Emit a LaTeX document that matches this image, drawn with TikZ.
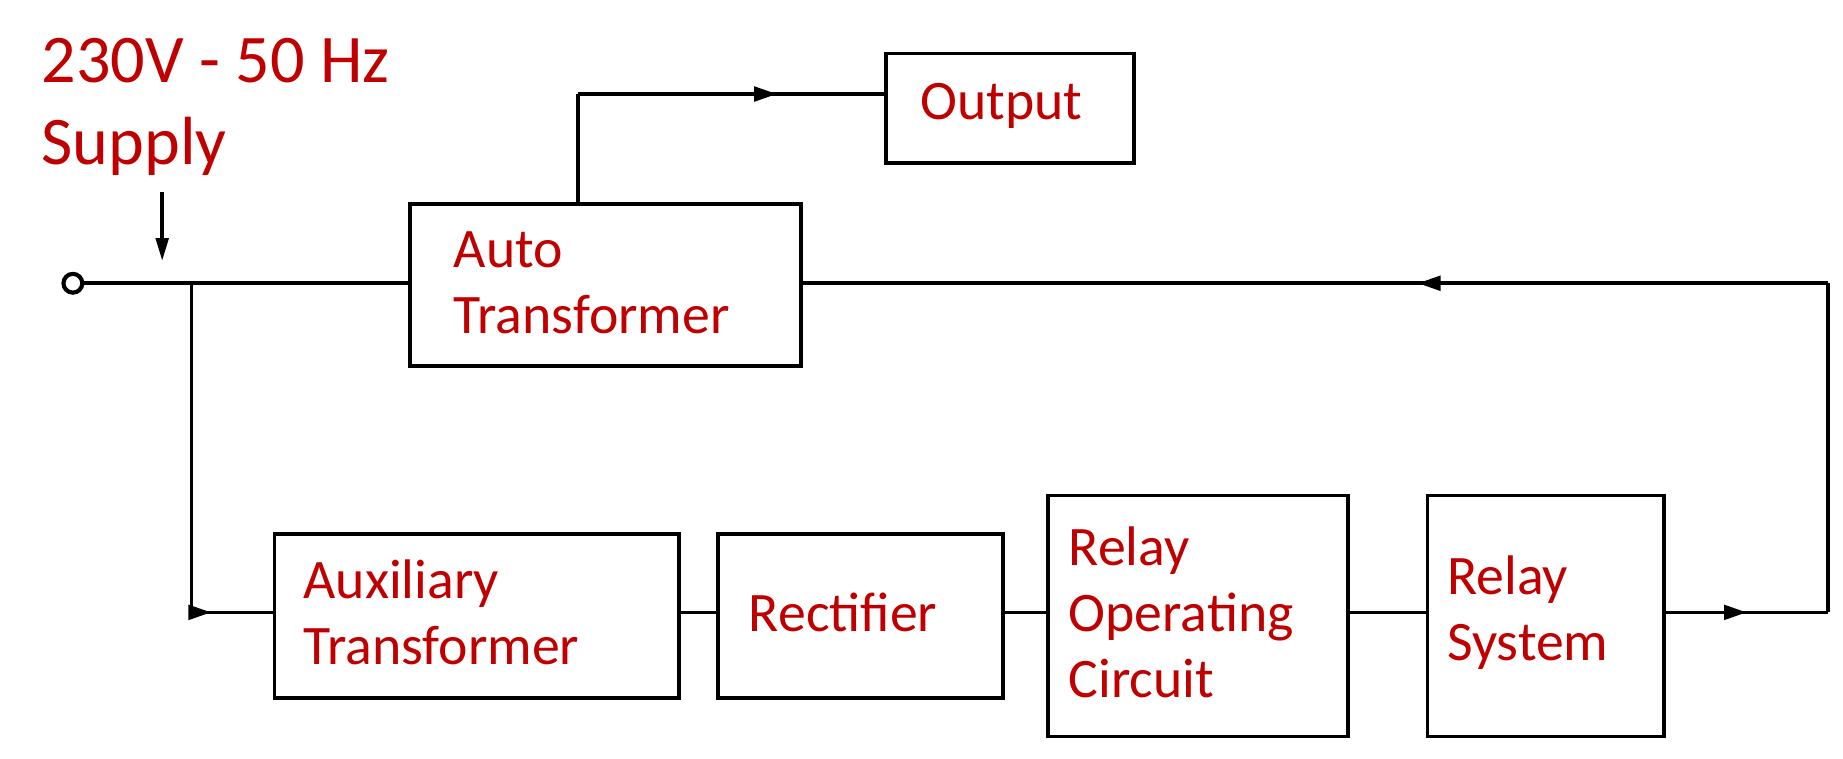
\documentclass[tikz,border=0pt]{standalone}
\usepackage{fontspec}
\setmainfont{Carlito}
\usetikzlibrary{arrows.meta,decorations.markings}
\definecolor{lbl}{HTML}{C00000}
\begin{document}
\begin{tikzpicture}[x=0.02cm,y=-0.02cm,
  blk/.style={draw,line width=1.8pt,anchor=north west,inner sep=0pt},
  lab/.style={text=lbl,font=\fontsize{27}{32}\selectfont,align=left,anchor=west},
  wire/.style={line width=1.8pt},
  midarrow/.style={postaction={decorate},decoration={markings,mark=at position #1 with {\arrow{Triangle[length=11pt,width=7pt]}}}}]
\useasboundingbox (0,0) rectangle (1568,645);
% boxes
\node[blk,minimum width=211*0.02cm,minimum height=93*0.02cm] (out) at (752,44) {};
\node[blk,minimum width=333*0.02cm,minimum height=138*0.02cm] (auto) at (347,172) {};
\node[blk,minimum width=344*0.02cm,minimum height=139*0.02cm] (aux) at (232,453) {};
\node[blk,minimum width=243*0.02cm,minimum height=139*0.02cm] (rect) at (609,453) {};
\node[blk,minimum width=255*0.02cm,minimum height=205*0.02cm] (roc) at (890,420) {};
\node[blk,minimum width=201*0.02cm,minimum height=205*0.02cm] (rs) at (1213,420) {};
% labels
\node[lab] at (777,90) {Output};
\node[lab] at (380,241) {Auto\\Transformer};
\node[lab] at (252,521) {Auxiliary\\Transformer};
\node[lab] at (631,521) {Rectifier};
\node[lab] at (903,521) {Relay\\Operating\\Circuit};
\node[lab] at (1225,521) {Relay\\System};
\node[text=lbl,font=\fontsize{33}{40}\selectfont,align=left,anchor=north west,inner sep=0pt] (sup) at (35,32) {230V - 50 Hz\\Supply};
% wires
\node[draw,circle,line width=2pt,minimum size=16*0.02cm,inner sep=0pt] (term) at (62,241) {};
\coordinate (j) at (163,241);
\coordinate (sa) at (138,163);
\coordinate (sb) at (138,222);
\draw[wire,-{Triangle[length=11pt,width=6pt]}] (sa) -- (sb);
\draw[wire] (term) -- (j) -- (auto.west |- j);
\draw[wire,midarrow=0.85] (j) -- (163,521) -- (aux.west |- 0,521);
\draw[wire] (aux.east |- 0,521) -- (rect.west |- 0,521);
\draw[wire] (rect.east |- 0,521) -- (roc.west |- 0,521);
\draw[wire] (roc.east |- 0,521) -- (rs.west |- 0,521);
\coordinate (rc) at (1555,521);
\coordinate (tc) at (1555,241);
\draw[wire,midarrow=0.5] (rs.east |- 0,521) -- (rc);
\draw[wire] (rc) -- (tc);
\draw[wire,midarrow=0.4] (tc) -- (auto.east |- 0,241);
\coordinate (up) at (492,80);
\draw[wire] (auto.north -| up) -- (up);
\draw[wire,midarrow=0.65] (up) -- (out.west |- up);
\end{tikzpicture}
\end{document}
